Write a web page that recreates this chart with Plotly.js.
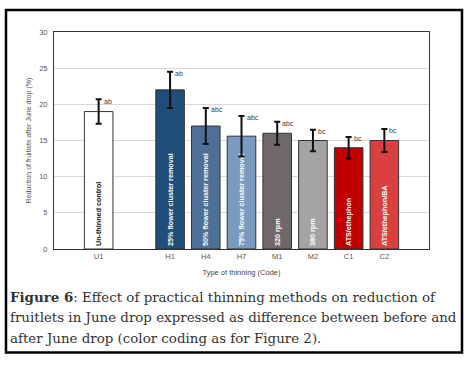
<!DOCTYPE html>
<html>
<head>
<meta charset="utf-8">
<script src="https://cdn.plot.ly/plotly-3.0.1.min.js"></script>
<style>html,body{margin:0;padding:0;background:#fff;}#chart{width:474px;height:366px;}</style>
</head>
<body>
<div id="chart"></div>
<script>
// Data
var codes = ["U1", " ", "H1", "H4", "H7", "M1", "M2", "C1", "C2"];
var values = [19.0, null, 22.0, 17.0, 15.6, 16.0, 15.0, 14.0, 15.0];
var errors = [1.7, null, 2.5, 2.5, 2.8, 1.6, 1.5, 1.5, 1.6];
var letters = ["ab", "", "ab", "abc", "abc", "abc", "bc", "bc", "bc"];
var barLabels = ["Un-thinned control", "", "25% flower cluster removal", "50% flower cluster removal",
  "75% flower cluster removal", "320 rpm", "380 rpm", "ATS/ethephon", "ATS/ethephon/BA"];
var barColors = ["#ffffff", "#ffffff", "#1f4e7a", "#4e6f96", "#7b9ac0", "#6e6869", "#a5a3a4", "#c00000", "#d9403f"];
var labelColors = ["#111111", "#111111", "#ffffff", "#ffffff", "#ffffff", "#ffffff", "#ffffff", "#ffffff", "#ffffff"];
var captionLines = [
  "<b>Figure 6</b>: Effect of practical thinning methods on reduction of",
  "fruitlets in June drop expressed as difference between before and",
  "after June drop (color coding as for Figure 2)."
];

var trace = {
  type: "bar",
  x: codes,
  y: values,
  width: 0.8,
  marker: {color: barColors, line: {color: "#333333", width: 1}},
  error_y: {type: "data", array: errors, visible: true, color: "#111111", thickness: 2, width: 3},
  text: barLabels,
  textposition: "inside",
  insidetextanchor: "start",
  textangle: -90,
  insidetextfont: {family: "Liberation Sans, Arial, sans-serif", size: 7.2, color: labelColors, weight: "bold"},
  hoverinfo: "none"
};

var annotations = [];
for (var i = 0; i < codes.length; i++) {
  if (!letters[i]) continue;
  annotations.push({
    x: codes[i], y: values[i] + errors[i], xref: "x", yref: "y",
    text: letters[i], showarrow: false, xanchor: "left", yanchor: "middle",
    xshift: 3, yshift: -2,
    font: {family: "Liberation Sans, Arial, sans-serif", size: 7, color: "#3a3a3a"}
  });
}
var capY = [-0.221, -0.315, -0.412];
for (var j = 0; j < captionLines.length; j++) {
  annotations.push({
    x: -0.1227, y: capY[j], xref: "paper", yref: "paper",
    text: captionLines[j], showarrow: false, xanchor: "left", yanchor: "middle",
    font: {family: "DejaVu Serif, serif", size: 13.4, color: "#333333"}
  });
}

var layout = {
  width: 474, height: 366,
  margin: {l: 54, r: 45, t: 32, b: 117},
  paper_bgcolor: "#ffffff", plot_bgcolor: "#ffffff",
  showlegend: false,
  bargap: 0.2,
  xaxis: {
    type: "category", categoryorder: "array", categoryarray: codes,
    range: [-1.25, 9.25],
    showgrid: false, zeroline: false,
    showline: true, linecolor: "#333333", linewidth: 1, mirror: true,
    ticks: "", tickfont: {family: "Liberation Sans, Arial, sans-serif", size: 7.5, color: "#555555"},
    title: {text: "Type of thinning (Code)", standoff: 9,
      font: {family: "Liberation Sans, Arial, sans-serif", size: 7.5, color: "#444444"}}
  },
  yaxis: {
    range: [0, 30], dtick: 5,
    showgrid: true, gridcolor: "#d9d9d9", gridwidth: 1,
    zeroline: false,
    showline: true, linecolor: "#333333", linewidth: 1, mirror: true,
    ticks: "outside", ticklen: 4, tickcolor: "rgba(0,0,0,0)",
    tickfont: {family: "Liberation Sans, Arial, sans-serif", size: 7.5, color: "#555555"},
    title: {text: "Reduction of fruitlets after June drop (%)", standoff: 6,
      font: {family: "Liberation Sans, Arial, sans-serif", size: 7, color: "#555555"}}
  },
  annotations: annotations,
  shapes: [{
    type: "rect", xref: "paper", yref: "paper",
    x0: -0.128, x1: 1.088, y0: -0.477, y1: 1.101,
    line: {color: "#000000", width: 2.5}, fillcolor: "rgba(0,0,0,0)"
  }]
};

Plotly.newPlot("chart", [trace], layout, {displayModeBar: false, staticPlot: true});
</script>
</body>
</html>
